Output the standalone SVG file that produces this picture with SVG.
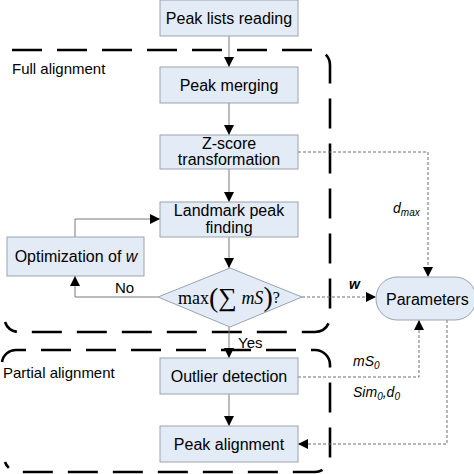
<svg xmlns="http://www.w3.org/2000/svg" width="474" height="474" viewBox="0 0 474 474">
<style>
.box{fill:#e3ebf6;stroke:#9ba4ae;stroke-width:1}
.t{font-family:"Liberation Sans",Arial,sans-serif;font-size:16px;fill:#000;text-anchor:middle}
.l{font-family:"Liberation Sans",Arial,sans-serif;font-size:15px;fill:#000}
.i{font-family:"Liberation Sans",Arial,sans-serif;font-size:14px;font-style:italic;fill:#000}
.c{fill:none;stroke:#7a7a7a;stroke-width:1}
.d{fill:none;stroke:#6e6e6e;stroke-width:1;stroke-dasharray:3 2}
.g{fill:none;stroke:#000;stroke-width:2.6;stroke-dasharray:30 15}
</style>
<defs>
<marker id="a" viewBox="0 0 10 10" refX="10" refY="5" markerWidth="10" markerHeight="10" markerUnits="userSpaceOnUse" orient="auto">
<path d="M0,0 L10,5 L0,10 Z" fill="#000"/>
</marker>
</defs>
<rect width="474" height="474" fill="#fff"/>
<g id="groups">
<path class="g" d="M12 50 H315 A15 15 0 0 1 330 65 V317 A15 15 0 0 1 315 332 H20 A15 15 0 0 1 5 322"/>
<path class="g" d="M2 362 A14 14 0 0 1 16 350 H315 A15 15 0 0 1 330 365 V457 A15 15 0 0 1 315 472 H20 A15 15 0 0 1 5 462"/>
<text class="l" x="12" y="74">Full alignment</text>
<text class="l" x="3" y="378">Partial alignment</text>
</g>
<g id="connectors">
<path class="c" d="M229 36 V67" marker-end="url(#a)"/>
<path class="c" d="M229 103 V135" marker-end="url(#a)"/>
<path class="c" d="M229 169 V202" marker-end="url(#a)"/>
<path class="c" d="M229 237 V268" marker-end="url(#a)"/>
<path class="c" d="M229 327 V358" marker-end="url(#a)"/>
<path class="c" d="M158 297 H75 V276" marker-end="url(#a)"/>
<path class="c" d="M75 237 V219 H160" marker-end="url(#a)"/>
<path class="c" d="M229 394 V426" marker-end="url(#a)"/>
<path class="d" d="M298 152 H428 V277" marker-end="url(#a)"/>
<path class="d" d="M302 297 H376" marker-end="url(#a)"/>
<path class="d" d="M298 377 H419 V320" marker-end="url(#a)"/>
<path class="d" d="M447 320 V444 H298" marker-end="url(#a)"/>
<text class="l" x="115" y="293">No</text>
<text class="l" x="238" y="348">Yes</text>
<text class="i" x="393" y="213">d<tspan font-size="10" dy="3">max</tspan></text>
<text class="i" x="349" y="289" font-weight="bold">w</text>
<text class="i" x="353" y="366">mS<tspan font-size="10" dy="3">0</tspan></text>
<text class="i" x="353" y="397">Sim<tspan font-size="10" dy="3">0</tspan><tspan dy="-3">,d</tspan><tspan font-size="10" dy="3">0</tspan></text>
</g>
<g id="n1"><rect class="box" x="160" y="0" width="138" height="36"/><text class="t" x="229" y="24">Peak lists reading</text></g>
<g id="n2"><rect class="box" x="160" y="67" width="138" height="36"/><text class="t" x="229" y="91">Peak merging</text></g>
<g id="n3"><rect class="box" x="160" y="135" width="138" height="34"/><text class="t" x="229" y="149">Z-score</text><text class="t" x="229" y="165">transformation</text></g>
<g id="n4"><rect class="box" x="160" y="202" width="138" height="35"/><text class="t" x="229" y="216">Landmark peak</text><text class="t" x="229" y="233">finding</text></g>
<g id="n5"><rect class="box" x="7" y="237" width="137" height="39"/><text class="t" x="76" y="262">Optimization of <tspan font-style="italic">w</tspan></text></g>
<g id="n6"><path class="box" d="M230 268 L302 297 L230 327 L158 297 Z"/>
<text x="178" y="304" font-family="'Liberation Serif','Times New Roman',serif" font-size="18" fill="#000">max<tspan font-size="28" dy="3">(</tspan><tspan font-size="26" dy="-1">∑</tspan><tspan font-style="italic" font-size="18" dy="-2"> mS</tspan><tspan font-size="28" dy="2">)</tspan><tspan font-size="16" dy="-3">?</tspan></text></g>
<g id="n7"><rect class="box" x="376" y="277" width="100" height="43" rx="21"/><text class="l" x="386" y="305" style="font-size:16px">Parameters</text></g>
<g id="n8"><rect class="box" x="160" y="358" width="138" height="36"/><text class="t" x="229" y="382">Outlier detection</text></g>
<g id="n9"><rect class="box" x="160" y="426" width="138" height="36"/><text class="t" x="229" y="450">Peak alignment</text></g>
</svg>
